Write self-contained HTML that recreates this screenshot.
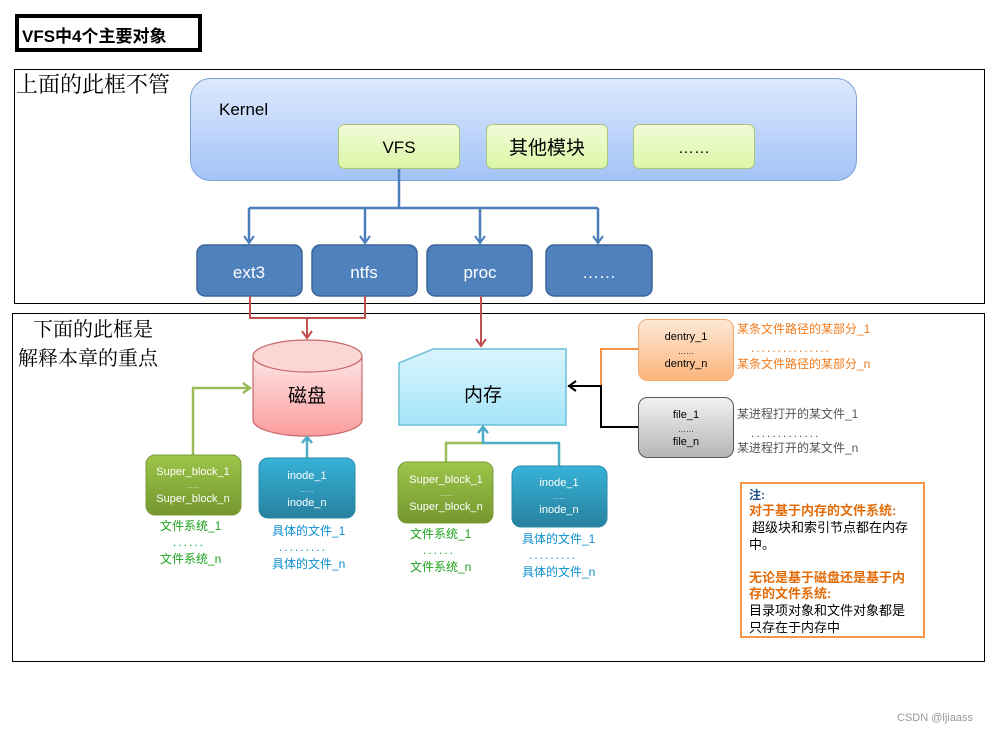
<!DOCTYPE html>
<html><head><meta charset="utf-8"><style>
body{margin:0;background:#fff;width:999px;height:734px;overflow:hidden}
text{font-family:"Liberation Sans","Noto Sans CJK SC",sans-serif}
.s{font-family:"Noto Serif CJK SC","Liberation Serif",serif}
</style></head><body>
<svg width="999" height="734" viewBox="0 0 999 734" xmlns="http://www.w3.org/2000/svg">
<defs>
<linearGradient id="gk" x1="0" y1="0" x2="0" y2="1"><stop offset="0" stop-color="#dde9fd"/><stop offset="1" stop-color="#a3c3f7"/></linearGradient>
<linearGradient id="gv" x1="0" y1="0" x2="0" y2="1"><stop offset="0" stop-color="#f1fbd8"/><stop offset="1" stop-color="#dcf7a6"/></linearGradient>
<linearGradient id="gd" x1="0" y1="0" x2="0" y2="1"><stop offset="0" stop-color="#fde6e6"/><stop offset="1" stop-color="#fc9c9c"/></linearGradient>
<linearGradient id="gm" x1="0" y1="0" x2="0" y2="1"><stop offset="0" stop-color="#daf4fc"/><stop offset="1" stop-color="#a5e5fa"/></linearGradient>
<linearGradient id="gg" x1="0" y1="0" x2="0" y2="1"><stop offset="0" stop-color="#9dc64a"/><stop offset="1" stop-color="#74972f"/></linearGradient>
<linearGradient id="gb" x1="0" y1="0" x2="0" y2="1"><stop offset="0" stop-color="#37b2d8"/><stop offset="1" stop-color="#27819e"/></linearGradient>
<linearGradient id="go" x1="0" y1="0" x2="0" y2="1"><stop offset="0" stop-color="#fde8d6"/><stop offset="1" stop-color="#fbb57c"/></linearGradient>
<linearGradient id="gy" x1="0" y1="0" x2="0" y2="1"><stop offset="0" stop-color="#f2f2f2"/><stop offset="1" stop-color="#b5b5b5"/></linearGradient>
</defs>
<rect x="17" y="16" width="183" height="34" fill="#fff" stroke="#000" stroke-width="4"/>
<text x="22" y="42" font-size="17" font-weight="bold">VFS中4个主要对象</text>
<rect x="14.5" y="69.5" width="970" height="234" fill="none" stroke="#000"/>
<text class="s" x="16" y="92" font-size="22">上面的此框不管</text>
<rect x="190.5" y="78.5" width="666" height="102" rx="20" fill="url(#gk)" stroke="#7ea3d6"/>
<text x="219" y="115" font-size="17">Kernel</text>
<rect x="338.5" y="124.5" width="121" height="44" rx="6" fill="url(#gv)" stroke="#a8c77a"/>
<text x="399" y="153" font-size="17" text-anchor="middle">VFS</text>
<rect x="486.5" y="124.5" width="121" height="44" rx="6" fill="url(#gv)" stroke="#a8c77a"/>
<text x="547" y="154" font-size="19" text-anchor="middle">其他模块</text>
<rect x="633.5" y="124.5" width="121" height="44" rx="6" fill="url(#gv)" stroke="#a8c77a"/>
<text x="694" y="153" font-size="16" text-anchor="middle">……</text>
<g stroke="#4a7ebb" stroke-width="2.5" fill="none">
<path d="M399 169V208M249 208H598M249 208V243M365 208V243M480 208V243M598 208V243"/>
<path d="M244 236l5 7 5-7M360 236l5 7 5-7M475 236l5 7 5-7M593 236l5 7 5-7" stroke-width="2"/>
</g>
<g fill="#4f81bd" stroke="#3a659a" stroke-width="1.5">
<rect x="197" y="245" width="105" height="51" rx="8"/><rect x="312" y="245" width="105" height="51" rx="8"/>
<rect x="427" y="245" width="105" height="51" rx="8"/><rect x="546" y="245" width="106" height="51" rx="8"/>
</g>
<g fill="#fff" font-size="17" text-anchor="middle"><text x="249" y="278">ext3</text><text x="364" y="278">ntfs</text><text x="480" y="278">proc</text><text x="599" y="278">……</text></g>
<rect x="12.5" y="313.5" width="972" height="348" fill="none" stroke="#000"/>
<text class="s" x="33" y="336" font-size="20">下面的此框是</text>
<text class="s" x="18" y="365" font-size="20">解释本章的重点</text>
<g stroke="#c0504d" stroke-width="2" fill="none">
<path d="M250 296V318H365V296M307 318V338M302 331l5 7 5-7M481 296V346M476 339l5 7 5-7"/>
</g>
<path d="M253 356V420A54 16 0 0 0 362 420V356" fill="url(#gd)" stroke="#c96a6a" stroke-width="1.2"/>
<ellipse cx="307.5" cy="356" rx="54.5" ry="16" fill="#fcd5d5" stroke="#c96a6a" stroke-width="1.2"/>
<text x="307" y="402" font-size="19" text-anchor="middle">磁盘</text>
<path d="M399 363L433 349H566V425H399Z" fill="url(#gm)" stroke="#6bbfd8" stroke-width="1.5"/>
<text x="483" y="401" font-size="19" text-anchor="middle">内存</text>
<path d="M638 349H601V386" stroke="#f79646" stroke-width="2" fill="none"/>
<path d="M638 427H601V386H568M576 381l-7 5 7 5" stroke="#000" stroke-width="2" fill="none"/>
<rect x="638.5" y="319.5" width="95" height="61" rx="9" fill="url(#go)" stroke="#f5a86a"/>
<g font-size="11" text-anchor="middle"><text x="686" y="340">dentry_1</text><text x="686" y="354" font-size="8">……</text><text x="686" y="367">dentry_n</text></g>
<rect x="638.5" y="397.5" width="95" height="60" rx="9" fill="url(#gy)" stroke="#555"/>
<g font-size="11" text-anchor="middle"><text x="686" y="418">file_1</text><text x="686" y="432" font-size="8">……</text><text x="686" y="445">file_n</text></g>
<g font-size="12" class="s"><g fill="#f27b1c"><text x="737" y="333">某条文件路径的某部分_1</text><text x="751" y="352" letter-spacing="2">...............</text><text x="737" y="368">某条文件路径的某部分_n</text></g>
<g fill="#555"><text x="737" y="418">某进程打开的某文件_1</text><text x="751" y="437" letter-spacing="2">.............</text><text x="737" y="452">某进程打开的某文件_n</text></g></g>
<rect x="741" y="483" width="183" height="154" fill="#fff" stroke="#f79646" stroke-width="2"/>
<g font-size="13"><text x="749" y="499" font-weight="bold" fill="#1f4e8c" font-size="12">注:</text>
<text x="749" y="515" fill="#e36c0a" font-weight="bold">对于基于内存的文件系统:</text>
<text x="752" y="532">超级块和索引节点都在内存</text><text x="749" y="549">中。</text>
<text x="749" y="582" fill="#e36c0a" font-weight="bold">无论是基于磁盘还是基于内</text>
<text x="749" y="598" fill="#e36c0a" font-weight="bold">存的文件系统:</text>
<text x="749" y="615">目录项对象和文件对象都是</text><text x="749" y="632">只存在于内存中</text></g>
<g stroke-width="2.5" fill="none">
<path d="M193 455V388H249M243 383l7 5-7 5" stroke="#9bbb59"/>
<path d="M307 458V437M302 443l5-6 5 6" stroke="#4bacc6"/>
<path d="M446 462V443H483" stroke="#9bbb59"/>
<path d="M559 466V443H483V427M478 433l5-6 5 6" stroke="#4bacc6"/>
</g>
<g fill="url(#gg)" stroke="#7a9a3a"><rect x="146" y="455" width="95" height="60" rx="9"/><rect x="398" y="462" width="95" height="61" rx="9"/></g>
<g fill="url(#gb)" stroke="#2a8aa8"><rect x="259" y="458" width="96" height="60" rx="9"/><rect x="512" y="466" width="95" height="61" rx="9"/></g>
<g fill="#fff" font-size="11" text-anchor="middle">
<text x="193" y="475">Super_block_1</text><text x="193" y="488" font-size="7">……</text><text x="193" y="502">Super_block_n</text>
<text x="307" y="479">inode_1</text><text x="307" y="492" font-size="7">……</text><text x="307" y="506">inode_n</text>
<text x="446" y="483">Super_block_1</text><text x="446" y="496" font-size="7">……</text><text x="446" y="510">Super_block_n</text>
<text x="559" y="486">inode_1</text><text x="559" y="499" font-size="7">……</text><text x="559" y="513">inode_n</text>
</g>
<g font-size="12" class="s">
<g fill="#1ea31e"><text x="160" y="530">文件系统_1</text><text x="173" y="546" letter-spacing="2">......</text><text x="160" y="563">文件系统_n</text>
<text x="410" y="538">文件系统_1</text><text x="423" y="554" letter-spacing="2">......</text><text x="410" y="571">文件系统_n</text></g>
<g fill="#0c8fd0"><text x="272" y="535">具体的文件_1</text><text x="279" y="551" letter-spacing="2">.........</text><text x="272" y="568">具体的文件_n</text>
<text x="522" y="543">具体的文件_1</text><text x="529" y="559" letter-spacing="2">.........</text><text x="522" y="576">具体的文件_n</text></g>
</g>
<text x="897" y="721" font-size="11" fill="#999">CSDN @ljiaass</text>
</svg>
</body></html>
